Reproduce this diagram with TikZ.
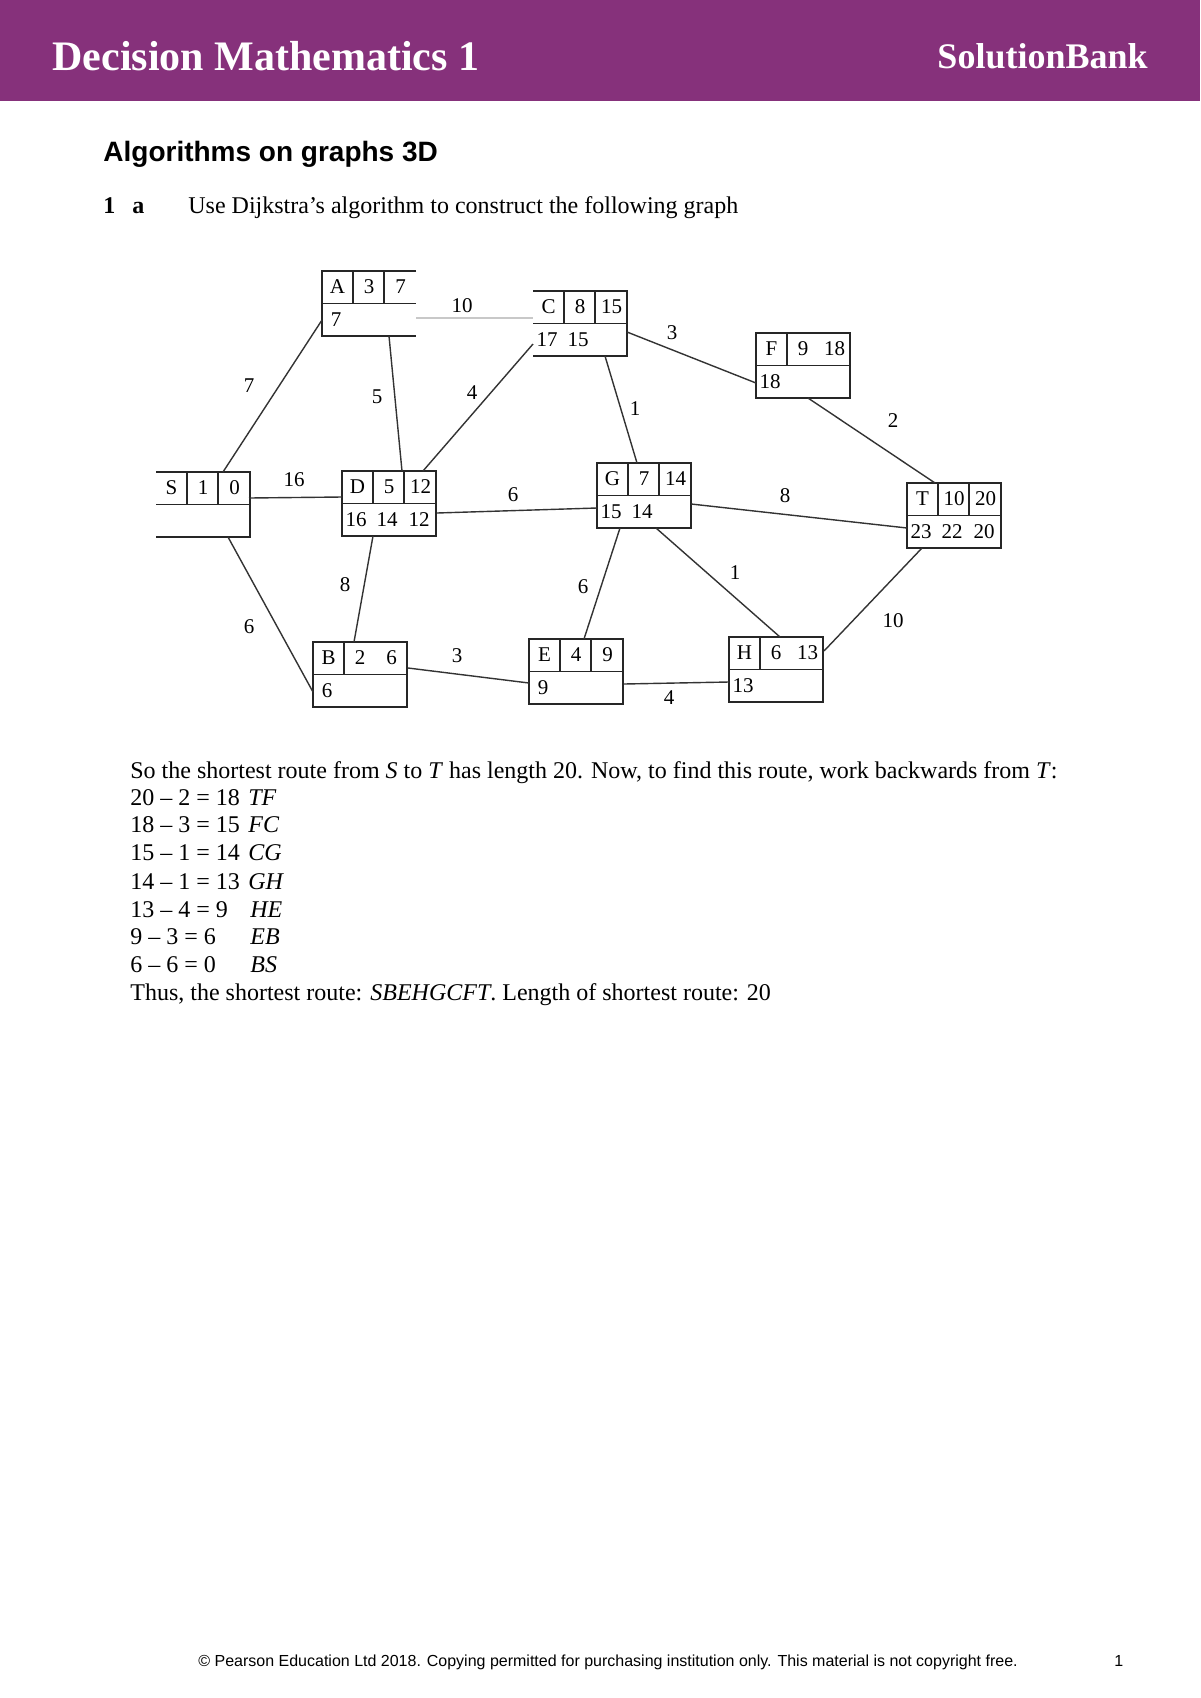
\documentclass[tikz,border=0pt]{standalone}
\usepackage{fontspec}
\setmainfont{Liberation Serif}
\setsansfont{Liberation Sans}
\usetikzlibrary{calc}
\definecolor{band}{RGB}{134,49,123}
\definecolor{faint}{RGB}{200,200,200}
\tikzset{
 dbox/.style={rectangle, anchor=north west, minimum width=47pt, minimum height=32.5pt, inner sep=0pt, outer sep=0pt},
 boxline/.style={line width=0.75pt, black!85},
 cell/.style={font=\fontsize{10.5}{12}\selectfont, inner sep=0pt},
 edgeline/.style={line width=0.7pt, black!80},
 wlabel/.style={font=\fontsize{10.5}{12}\selectfont, inner sep=1pt},
 body/.style={font=\fontsize{12}{14}\selectfont, anchor=base west, inner sep=0pt},
}
\newcommand\TopRow[4]{%
 \node[cell] (#1-t1) at ($(#1.north west)+(15.5,16)$) {#2};
 \node[cell] (#1-t2) at ($(#1.north west)+(47,16)$) {#3};
 \node[cell] (#1-t3) at ($(#1.north west)+(78.5,16)$) {#4};}
\newcommand\BotRow[4]{%
 \node[cell] (#1-b1) at ($(#1.north west)+(14,48.5)$) {#2};
 \node[cell] (#1-b2) at ($(#1.north west)+(45,48.5)$) {#3};
 \node[cell] (#1-b3) at ($(#1.north west)+(77,48.5)$) {#4};}
\newcommand\MidLine[1]{\draw[boxline] (#1.west) -- (#1.east);}
\newcommand\DivA[1]{\draw[boxline] ($(#1.north west)+(31,0)$) -- ($(#1.west)+(31,0)$);}
\newcommand\DivB[1]{\draw[boxline] ($(#1.north west)+(62,0)$) -- ($(#1.west)+(62,0)$);}
\newcommand\FullBox[1]{\draw[boxline] (#1.north west) rectangle (#1.south east);}
\begin{document}
\begin{tikzpicture}[x=0.5pt,y=-0.5pt]
\path[use as bounding box, fill=white] (0,0) rectangle (1200,1698);
% header
\fill[band] (0,0) rectangle (1200,101);
\node[anchor=base west, inner sep=0pt, text=white, font=\fontsize{21}{24}\selectfont\bfseries] (title) at (52,70) {Decision Mathematics 1};
\node[anchor=base east, inner sep=0pt, text=white, font=\fontsize{18}{21}\selectfont\bfseries] (sbank) at (1148,68) {SolutionBank};
% heading
\node[anchor=base west, inner sep=0pt, font=\sffamily\bfseries\fontsize{14}{16}\selectfont] (head) at (103,161) {Algorithms on graphs 3D};
\node[body, font=\fontsize{12}{14}\selectfont\bfseries] (qn) at (103,213) {1};
\node[body, font=\fontsize{12}{14}\selectfont\bfseries] (qa) at (132,213) {a};
\node[body] (qtext) at (188,213) {Use Dijkstra’s algorithm to construct the following graph};

% nodes
\node[dbox] (S) at (156,472) {};
\node[dbox] (A) at (322,271) {};
\node[dbox] (D) at (342,471) {};
\node[dbox] (C) at (533,291) {};
\node[dbox] (F) at (756,333) {};
\node[dbox] (G) at (597,463) {};
\node[dbox] (T) at (907,483) {};
\node[dbox] (B) at (313,642) {};
\node[dbox] (E) at (529,639) {};
\node[dbox] (H) at (729,637) {};

% outlines
\draw[boxline] (S.north west) -- (S.north east) -- (S.south east) -- (S.south west);
\draw[boxline] (A.north east) -- (A.north west) -- (A.south west) -- (A.south east);
\draw[boxline] (C.north west) -- (C.north east) -- (C.south east) -- (C.south west);
\FullBox{D}\FullBox{F}\FullBox{G}\FullBox{T}\FullBox{B}\FullBox{E}\FullBox{H}
\MidLine{S}\MidLine{A}\MidLine{D}\MidLine{C}\MidLine{F}\MidLine{G}\MidLine{T}\MidLine{B}\MidLine{E}\MidLine{H}
\DivA{S}\DivB{S}\DivA{A}\DivB{A}\DivA{D}\DivB{D}\DivA{C}\DivB{C}\DivA{F}
\DivA{G}\DivB{G}\DivA{T}\DivB{T}\DivA{B}\DivA{E}\DivB{E}\DivA{H}

% cell texts
\TopRow{S}{S}{1}{0}
\TopRow{A}{A}{3}{7}\BotRow{A}{7}{}{}
\TopRow{D}{D}{5}{12}\BotRow{D}{16}{14}{12}
\TopRow{C}{C}{8}{15}\BotRow{C}{17}{15}{}
\TopRow{F}{F}{9}{18}\BotRow{F}{18}{}{}
\TopRow{G}{G}{7}{14}\BotRow{G}{15}{14}{}
\TopRow{T}{T}{10}{20}\BotRow{T}{23}{22}{20}
\TopRow{B}{B}{2}{6}\BotRow{B}{6}{}{}
\TopRow{E}{E}{4}{9}\BotRow{E}{9}{}{}
\TopRow{H}{H}{6}{13}\BotRow{H}{13}{}{}

% edges
\draw[edgeline] ($(S.north west)+(67,0)$) -- ($(A.north west)+(0,49)$);
\draw[edgeline] ($(A.north west)+(67,65)$) -- ($(D.north west)+(60,0)$);
\draw[edgeline] ($(D.north west)+(81,0)$) -- ($(C.north west)+(0,53)$);
\draw[line width=0.6pt, faint] ($(A.north west)+(94,47)$) -- ($(C.north west)+(0,27)$);
\draw[edgeline] ($(S.north west)+(93,26)$) -- ($(D.north west)+(0,26)$);
\draw[edgeline] ($(D.north west)+(95,42)$) -- ($(G.north west)+(0,45)$);
\draw[edgeline] ($(C.north west)+(94,41)$) -- ($(F.north west)+(0,50)$);
\draw[edgeline] ($(C.north west)+(72,65)$) -- ($(G.north west)+(40,0)$);
\draw[edgeline] ($(F.north west)+(52,65)$) -- ($(T.north west)+(28,0)$);
\draw[edgeline] ($(G.north west)+(94,41)$) -- ($(T.north west)+(0,45)$);
\draw[edgeline] ($(S.north west)+(72,65)$) -- ($(B.north west)+(0,50)$);
\draw[edgeline] ($(D.north west)+(31,65)$) -- ($(B.north west)+(41,0)$);
\draw[edgeline] ($(B.north west)+(95,26)$) -- ($(E.north west)+(0,44)$);
\draw[edgeline] ($(G.north west)+(23,65)$) -- ($(E.north west)+(55,0)$);
\draw[edgeline] ($(G.north west)+(59,65)$) -- ($(H.north west)+(51,0)$);
\draw[edgeline] ($(T.north west)+(15,65)$) -- ($(H.north west)+(95,14)$);
\draw[edgeline] ($(E.north west)+(95,45)$) -- ($(H.north west)+(0,45)$);

% weights
\node[wlabel] (wSA) at (249,386) {7};
\node[wlabel] (wAD) at (377,397) {5};
\node[wlabel] (wDC) at (472,393) {4};
\node[wlabel] (wAC) at (462,306) {10};
\node[wlabel] (wSD) at (294,480) {16};
\node[wlabel] (wDG) at (513,495) {6};
\node[wlabel] (wCF) at (672,333) {3};
\node[wlabel] (wCG) at (635,409) {1};
\node[wlabel] (wFT) at (893,421) {2};
\node[wlabel] (wGT) at (785,496) {8};
\node[wlabel] (wSB) at (249,627) {6};
\node[wlabel] (wDB) at (345,585) {8};
\node[wlabel] (wBE) at (457,656) {3};
\node[wlabel] (wGE) at (583,587) {6};
\node[wlabel] (wGH) at (735,573) {1};
\node[wlabel] (wTH) at (893,621) {10};
\node[wlabel] (wEH) at (669,698) {4};

% working
\node[body] (l0) at (130,778) {So the shortest route from \textit{S} to \textit{T} has length 20. Now, to find this route, work backwards from \textit{T}:};
\node[body] (l1) at (130,805) {20 – 2 = 18};
\node[body] (l2) at (130,832) {18 – 3 = 15};
\node[body] (l3) at (130,860) {15 – 1 = 14};
\node[body] (l4) at (130,889) {14 – 1 = 13};
\node[body] (l5) at (130,917) {13 – 4 = 9};
\node[body] (l6) at (130,944) {9 – 3 = 6};
\node[body] (l7) at (130,972) {6 – 6 = 0};
\node[body] (p1) at (248,805) {\textit{TF}};
\node[body] (p2) at (248,832) {\textit{FC}};
\node[body] (p3) at (248,860) {\textit{CG}};
\node[body] (p4) at (248,889) {\textit{GH}};
\node[body] (p5) at (250,917) {\textit{HE}};
\node[body] (p6) at (250,944) {\textit{EB}};
\node[body] (p7) at (250,972) {\textit{BS}};
\node[body] (l8) at (130,1000) {Thus, the shortest route: \textit{SBEHGCFT}. Length of shortest route: 20};

% footer
\node[anchor=base west, inner sep=0pt, font=\sffamily\fontsize{8}{10}\selectfont] (foot) at (198,1666) {© Pearson Education Ltd 2018. Copying permitted for purchasing institution only. This material is not copyright free.};
\node[anchor=base west, inner sep=0pt, font=\sffamily\fontsize{8}{10}\selectfont] (pnum) at (1114,1666) {1};
\end{tikzpicture}
\end{document}
